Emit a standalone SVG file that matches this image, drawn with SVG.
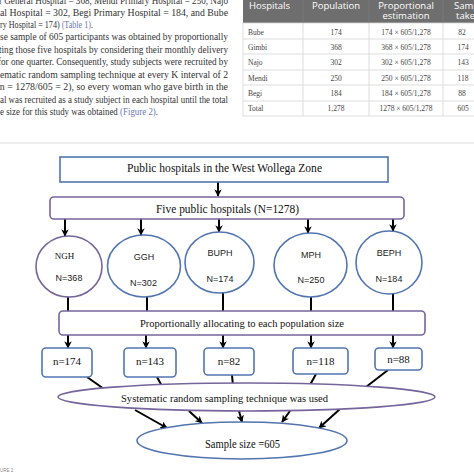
<svg xmlns="http://www.w3.org/2000/svg" width="474" height="474" viewBox="0 0 474 474">
<defs>
<marker id="ah" viewBox="0 0 10 10" refX="9" refY="5" markerWidth="7.5" markerHeight="7.5" markerUnits="userSpaceOnUse" orient="auto">
<path d="M0,0 L10,5 L0,10 L3,5 z" fill="#000"/>
</marker>
<style>
.p{font-family:"Liberation Serif",serif;font-size:10.5px;fill:#333}
.lk{fill:#6a78b8}
.th{font-family:"Open Sans","Liberation Sans",sans-serif;font-size:9.5px;fill:#fff}
.td{font-family:"Liberation Serif",serif;font-size:7.5px;fill:#444}
.tl{stroke:#d4d4d4;stroke-width:0.8}
.s{font-family:"Liberation Serif",serif;fill:#111}
.c{font-family:"Liberation Sans",sans-serif;font-size:9px;fill:#222}
.blue{fill:#fff;stroke:#5275b0;stroke-width:1.6}
.purp{fill:#fff;stroke:#76659c;stroke-width:1.6}
.cn{stroke:#000;stroke-width:2;fill:none}
.ar{stroke:#000;stroke-width:2;fill:none;marker-end:url(#ah)}
</style>
</defs>
<rect width="474" height="474" fill="#fff"/>

<!-- paragraph text -->
<g id="paragraph">
<text class="p" x="-1" y="3.5" textLength="229" lengthAdjust="spacingAndGlyphs">r General Hospital = 368, Mendi Primary Hospital = 250, Najo</text>
<text class="p" x="0" y="15.5" textLength="228" lengthAdjust="spacingAndGlyphs">al Hospital = 302, Begi Primary Hospital = 184, and Bube</text>
<text class="p" x="0" y="27.5" textLength="93" lengthAdjust="spacingAndGlyphs">ry Hospital = 174) <tspan class="lk">(Table 1)</tspan>.</text>
<text class="p" x="0" y="40" textLength="228" lengthAdjust="spacingAndGlyphs">se sample of 605 participants was obtained by proportionally</text>
<text class="p" x="-1" y="52.5" textLength="229" lengthAdjust="spacingAndGlyphs">ting those five hospitals by considering their monthly delivery</text>
<text class="p" x="-2" y="65" textLength="230" lengthAdjust="spacingAndGlyphs">for one quarter. Consequently, study subjects were recruited by</text>
<text class="p" x="0" y="77.5" textLength="228" lengthAdjust="spacingAndGlyphs">ematic random sampling technique at every K interval of 2</text>
<text class="p" x="-3" y="90" textLength="231" lengthAdjust="spacingAndGlyphs">/n = 1278/605 = 2), so every woman who gave birth in the</text>
<text class="p" x="0" y="102.5" textLength="228" lengthAdjust="spacingAndGlyphs">al was recruited as a study subject in each hospital until the total</text>
<text class="p" x="0" y="115" textLength="158" lengthAdjust="spacingAndGlyphs">e size for this study was obtained <tspan class="lk">(Figure 2)</tspan>.</text>
</g>

<!-- table -->
<g id="table">
<rect x="243" y="-2" width="240" height="25" fill="#6e6e6e"/>
<rect x="243" y="23" width="240" height="93" fill="#fff" stroke="#d4d4d4" stroke-width="0.8"/>
<line class="tl" x1="243" y1="39" x2="474" y2="39"/>
<line class="tl" x1="243" y1="54" x2="474" y2="54"/>
<line class="tl" x1="243" y1="70" x2="474" y2="70"/>
<line class="tl" x1="243" y1="85" x2="474" y2="85"/>
<line class="tl" x1="243" y1="101" x2="474" y2="101"/>
<line class="tl" x1="303" y1="23" x2="303" y2="116"/>
<line class="tl" x1="369" y1="23" x2="369" y2="116"/>
<line class="tl" x1="443" y1="23" x2="443" y2="116"/>
<line x1="303" y1="-2" x2="303" y2="23" stroke="#7c7c7c" stroke-width="0.8"/>
<line x1="369" y1="-2" x2="369" y2="23" stroke="#7c7c7c" stroke-width="0.8"/>
<line x1="443" y1="-2" x2="443" y2="23" stroke="#7c7c7c" stroke-width="0.8"/>
<text class="th" x="249" y="8.5">Hospitals</text>
<text class="th" x="336" y="8.5" text-anchor="middle">Population</text>
<text class="th" x="406" y="8.5" text-anchor="middle">Proportional</text>
<text class="th" x="406" y="19" text-anchor="middle">estimation</text>
<text class="th" x="454" y="8.5">Sample</text>
<text class="th" x="456" y="19">taken</text>
<g class="td">
<text x="248" y="34.5">Bube</text>
<text x="248" y="49.5">Gimbi</text>
<text x="248" y="65">Najo</text>
<text x="248" y="80.5">Mendi</text>
<text x="248" y="95.5">Begi</text>
<text x="248" y="111">Total</text>
</g>
<g class="td" text-anchor="middle">
<text x="336" y="34.5">174</text>
<text x="336" y="49.5">368</text>
<text x="336" y="65">302</text>
<text x="336" y="80.5">250</text>
<text x="336" y="95.5">184</text>
<text x="336" y="111">1,278</text>
<text x="406" y="34.5">174 × 605/1,278</text>
<text x="406" y="49.5">368 × 605/1,278</text>
<text x="406" y="65">302 × 605/1,278</text>
<text x="406" y="80.5">250 × 605/1,278</text>
<text x="406" y="95.5">184 × 605/1,278</text>
<text x="406" y="111">1278 × 605/1,278</text>
<text x="462" y="34.5">82</text>
<text x="463" y="49.5">174</text>
<text x="463" y="65">143</text>
<text x="463" y="80.5">118</text>
<text x="462" y="95.5">88</text>
<text x="463" y="111">605</text>
</g>
</g>

<line x1="0" y1="143" x2="474" y2="143" stroke="#dcdcdc" stroke-width="1"/>

<!-- connectors -->
<g id="connectors">
<line class="ar" x1="218" y1="182" x2="218" y2="196"/>
<line class="ar" x1="65" y1="219" x2="65" y2="236"/>
<line class="ar" x1="141" y1="219" x2="141" y2="235"/>
<line class="ar" x1="219" y1="219" x2="219" y2="232"/>
<line class="ar" x1="308" y1="219" x2="308" y2="233"/>
<line class="ar" x1="393" y1="219" x2="393" y2="231"/>
<line class="cn" x1="68" y1="296" x2="68" y2="311"/>
<line class="cn" x1="147" y1="296" x2="147" y2="311"/>
<line class="cn" x1="223" y1="292" x2="223" y2="311"/>
<line class="cn" x1="311" y1="296" x2="311" y2="311"/>
<line class="cn" x1="393" y1="293" x2="393" y2="311"/>
<line class="ar" x1="68" y1="335" x2="68" y2="348"/>
<line class="ar" x1="146" y1="335" x2="146" y2="348"/>
<line class="ar" x1="223" y1="335" x2="223" y2="348"/>
<line class="ar" x1="311" y1="335" x2="311" y2="348"/>
<line class="ar" x1="393" y1="335" x2="393" y2="348"/>
<line class="cn" x1="87" y1="377" x2="104" y2="389"/>
<line class="cn" x1="157" y1="377" x2="163" y2="388"/>
<line class="cn" x1="232" y1="375" x2="233" y2="386"/>
<line class="cn" x1="316" y1="374" x2="310" y2="385"/>
<line class="cn" x1="388" y1="370" x2="366" y2="387"/>
<line class="ar" x1="135" y1="410" x2="167" y2="428"/>
<line class="ar" x1="189" y1="411" x2="202" y2="423"/>
<line class="ar" x1="239" y1="411" x2="242" y2="422"/>
<line class="ar" x1="290" y1="411" x2="282" y2="422"/>
<line class="ar" x1="340" y1="409" x2="319" y2="428"/>
</g>

<!-- nodes -->
<g id="zone">
<rect class="blue" x="60" y="157" width="328" height="25" stroke-width="2"/>
<text class="s" x="224.5" y="172" font-size="11.5" text-anchor="middle" textLength="195" lengthAdjust="spacingAndGlyphs">Public hospitals in the West Wollega Zone</text>
</g>
<g id="five">
<rect class="purp" x="50" y="197" width="354" height="22" rx="4"/>
<text class="s" x="227.5" y="212.5" font-size="11.5" text-anchor="middle" textLength="143" lengthAdjust="spacingAndGlyphs">Five public hospitals (N=1278)</text>
</g>
<g id="ngh">
<ellipse class="purp" cx="69" cy="266.5" rx="33" ry="30.5"/>
<text class="s" x="64.5" y="258.5" font-size="9" text-anchor="middle">NGH</text>
<text class="c" x="69" y="280.5" text-anchor="middle">N=368</text>
</g>
<g id="ggh">
<ellipse class="blue" cx="144" cy="266" rx="36.5" ry="31"/>
<text class="c" x="144" y="259.5" text-anchor="middle">GGH</text>
<text class="c" x="143.5" y="285.5" text-anchor="middle">N=302</text>
</g>
<g id="buph">
<ellipse class="blue" cx="219.5" cy="262.5" rx="34.5" ry="30.5"/>
<text class="c" x="220" y="255.5" text-anchor="middle">BUPH</text>
<text class="c" x="220" y="281.5" text-anchor="middle">N=174</text>
</g>
<g id="mph">
<ellipse class="blue" cx="310.5" cy="265" rx="36.5" ry="32"/>
<text class="c" x="311" y="257.5" text-anchor="middle">MPH</text>
<text class="c" x="311" y="282.5" text-anchor="middle">N=250</text>
</g>
<g id="beph">
<ellipse class="blue" cx="389" cy="262.5" rx="33" ry="31.5"/>
<text class="c" x="389" y="255.5" text-anchor="middle">BEPH</text>
<text class="c" x="389" y="281.5" text-anchor="middle">N=184</text>
</g>
<g id="prop">
<rect class="purp" x="59" y="311" width="366" height="24" rx="4"/>
<text class="s" x="242" y="326.5" font-size="11" text-anchor="middle" textLength="204" lengthAdjust="spacingAndGlyphs">Proportionally allocating to each population size</text>
</g>
<g id="n174">
<rect class="blue" x="42" y="348" width="50" height="29" rx="4"/>
<text class="s" x="67" y="365" font-size="11" text-anchor="middle">n=174</text>
</g>
<g id="n143">
<rect class="blue" x="124" y="348" width="52" height="29" rx="4"/>
<text class="s" x="150" y="365" font-size="11" text-anchor="middle">n=143</text>
</g>
<g id="n82">
<rect class="blue" x="204" y="348" width="50" height="27" rx="4"/>
<text class="s" x="229" y="365" font-size="11" text-anchor="middle">n=82</text>
</g>
<g id="n118">
<rect class="blue" x="293" y="348" width="55" height="26" rx="4"/>
<text class="s" x="320.5" y="364.5" font-size="11" text-anchor="middle">n=118</text>
</g>
<g id="n88">
<rect class="blue" x="375" y="348" width="47" height="22" rx="4"/>
<text class="s" x="398.5" y="363" font-size="11" text-anchor="middle">n=88</text>
</g>
<g id="systematic">
<ellipse class="purp" cx="246.5" cy="397" rx="188.5" ry="14"/>
<text class="s" x="224.5" y="401.5" font-size="11" text-anchor="middle" textLength="207" lengthAdjust="spacingAndGlyphs">Systematic random sampling technique was used</text>
</g>
<g id="sample">
<ellipse class="blue" cx="242" cy="440.5" rx="105" ry="18.5"/>
<text class="s" x="242.5" y="448" font-size="12" text-anchor="middle" textLength="75" lengthAdjust="spacingAndGlyphs">Sample size =605</text>
</g>
<text x="0" y="472" font-family="Liberation Sans,sans-serif" font-size="4.5" fill="#888">URE 2</text>
</svg>
